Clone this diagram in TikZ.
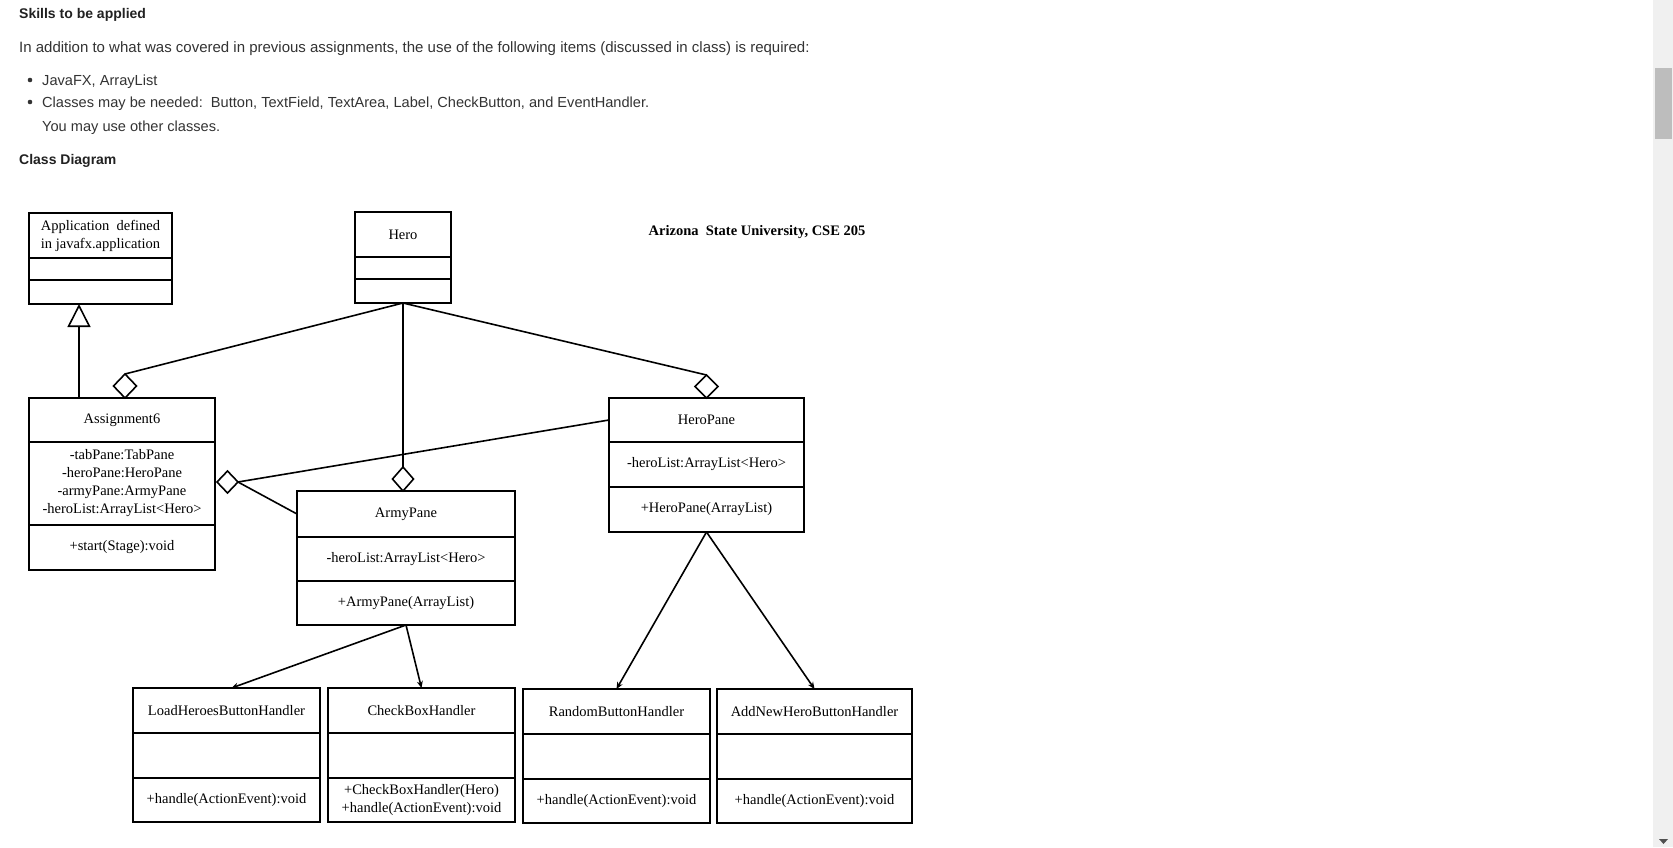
\documentclass[tikz,border=0pt]{standalone}
\usepackage{fontspec}
\usepackage{calc}
\setmainfont{Liberation Serif}
\newfontfamily\websans{Liberation Sans}
\usetikzlibrary{arrows.meta, shapes.geometric, positioning}
\definecolor{webtext}{HTML}{333333}
\definecolor{webhead}{HTML}{212121}
\definecolor{scrolltrack}{HTML}{F0F0F0}
\definecolor{scrollthumb}{HTML}{BDBDBD}
\definecolor{scrollarrow}{HTML}{505050}
\newcommand{\umlsize}{\fontsize{14.5}{18}\selectfont}
\newcommand{\websize}{\fontsize{14.6}{17}\selectfont}

\begin{document}
\begin{tikzpicture}[x=1pt, y=-1pt,
part/.style={draw, line width=1.6pt, inner sep=0pt, outer sep=0pt, align=center, font=\umlsize},
agg/.style={diamond, draw, line width=1.6pt, inner sep=0pt, outer sep=0pt, fill=white},
assoc/.style={line width=1.6pt},
nav/.style={line width=1.6pt, -{Stealth[length=7pt, width=6pt]}},
web/.style={anchor=base west, inner sep=0pt, text=webtext, font=\websans\websize},
webhead/.style={web, text=webhead, font=\websans\fontsize{14}{17}\selectfont\bfseries}]
\useasboundingbox (0,0) rectangle (1673,847);

\node[webhead] (skills) at (19,18) {Skills to be applied};
\node[web, font=\websans\fontsize{15}{17}\selectfont] (intro) at (19,52) {In addition to what was covered in previous assignments, the use of the following items (discussed in class) is required:};
\fill[webtext] (30,80) circle (2.3);
\node[web] (item1) at (42,85) {JavaFX, ArrayList};
\fill[webtext] (30,102) circle (2.3);
\node[web] (item2) at (42,107) {Classes may be needed:\ \ Button, TextField, TextArea, Label, CheckButton, and EventHandler.};
\node[web] (item2b) at (42,131) {You may use other classes.};
\node[webhead] (diagtitle) at (19,164) {Class Diagram};

\node[part, minimum width=143, minimum height=45] (app) at (100.5,235.5) {\makebox[\widthof{in javafx.application}][s]{Application defined}\\in javafx.application};
\node[part, minimum width=143, minimum height=22, below=0pt of app] (app-a) {};
\node[part, minimum width=143, minimum height=24, below=0pt of app-a] (app-m) {};

\node[part, minimum width=96, minimum height=45] (hero) at (403,234.5) {Hero};
\node[part, minimum width=96, minimum height=22, below=0pt of hero] (hero-a) {};
\node[part, minimum width=96, minimum height=24, below=0pt of hero-a] (hero-m) {};

\node[font=\umlsize\bfseries] (asu) at (757,232) {Arizona\ \ State University, CSE 205};

\node[part, minimum width=186, minimum height=44] (a6) at (122,420) {Assignment6};
\node[part, minimum width=186, minimum height=83, below=0pt of a6] (a6-a) {-tabPane:TabPane\\-heroPane:HeroPane\\-armyPane:ArmyPane\\-heroList:ArrayList<Hero>};
\node[part, minimum width=186, minimum height=45, below=0pt of a6-a] (a6-m) {+start(Stage):void};

\node[part, minimum width=218, minimum height=46] (army) at (406,514) {ArmyPane};
\node[part, minimum width=218, minimum height=44, below=0pt of army] (army-a) {-heroList:ArrayList<Hero>};
\node[part, minimum width=218, minimum height=44, below=0pt of army-a] (army-m) {+ArmyPane(ArrayList)};

\node[part, minimum width=195, minimum height=44] (heropane) at (706.5,420) {HeroPane};
\node[part, minimum width=195, minimum height=45, below=0pt of heropane] (heropane-a) {-heroList:ArrayList<Hero>};
\node[part, minimum width=195, minimum height=45, below=0pt of heropane-a] (heropane-m) {+HeroPane(ArrayList)};

\node[part, minimum width=187, minimum height=45] (load) at (226.5,710.5) {LoadHeroesButtonHandler};
\node[part, minimum width=187, minimum height=45, below=0pt of load] (load-a) {};
\node[part, minimum width=187, minimum height=44, below=0pt of load-a] (load-m) {+handle(ActionEvent):void};

\node[part, minimum width=187, minimum height=45] (check) at (421.5,710.5) {CheckBoxHandler};
\node[part, minimum width=187, minimum height=45, below=0pt of check] (check-a) {};
\node[part, minimum width=187, minimum height=44, below=0pt of check-a] (check-m) {+CheckBoxHandler(Hero)\\+handle(ActionEvent):void};

\node[part, minimum width=187, minimum height=45] (random) at (616.5,711.5) {RandomButtonHandler};
\node[part, minimum width=187, minimum height=45, below=0pt of random] (random-a) {};
\node[part, minimum width=187, minimum height=44, below=0pt of random-a] (random-m) {+handle(ActionEvent):void};

\node[part, minimum width=195, minimum height=45] (addnew) at (814.5,711.5) {AddNewHeroButtonHandler};
\node[part, minimum width=195, minimum height=45, below=0pt of addnew] (addnew-a) {};
\node[part, minimum width=195, minimum height=44, below=0pt of addnew-a] (addnew-m) {+handle(ActionEvent):void};

\coordinate (gen) at ([xshift=-21.5pt]app-m.south);
\draw[line width=1.6pt, -{Triangle[open, length=23pt, width=23pt]}] (gen |- a6.north) -- (gen);

\node[agg, minimum width=23, minimum height=24, anchor=south] (agg-a6) at ([xshift=3pt]a6.north) {};
\node[agg, minimum width=21, minimum height=24, anchor=south] (agg-army) at (hero-m.south |- army.north) {};
\node[agg, minimum width=23, minimum height=23, anchor=south] (agg-hp) at (heropane.north) {};
\node[agg, minimum width=21, minimum height=22] (agg-side) at (227.5,482) {};

\draw[assoc] (hero-m.south) -- (agg-a6.north);
\draw[assoc] (hero-m.south) -- (agg-army.north);
\draw[assoc] (hero-m.south) -- (agg-hp.north);
\draw[assoc] (agg-side.east) -- (heropane.west);
\draw[assoc] (agg-side.east) -- (army.west);

\draw[nav] (army-m.south) -- ([xshift=5pt]load.north);
\draw[nav] (army-m.south) -- (check.north);
\draw[nav] (heropane-m.south) -- (random.north);
\draw[nav] (heropane-m.south) -- (addnew.north);

\fill[scrolltrack] (1653,0) rectangle (1673,847);
\fill[scrollthumb] (1655,68) rectangle (1672,139);
\fill[scrollarrow] (1659,839) -- (1668,839) -- (1663.5,844) -- cycle;
\end{tikzpicture}
\end{document}
